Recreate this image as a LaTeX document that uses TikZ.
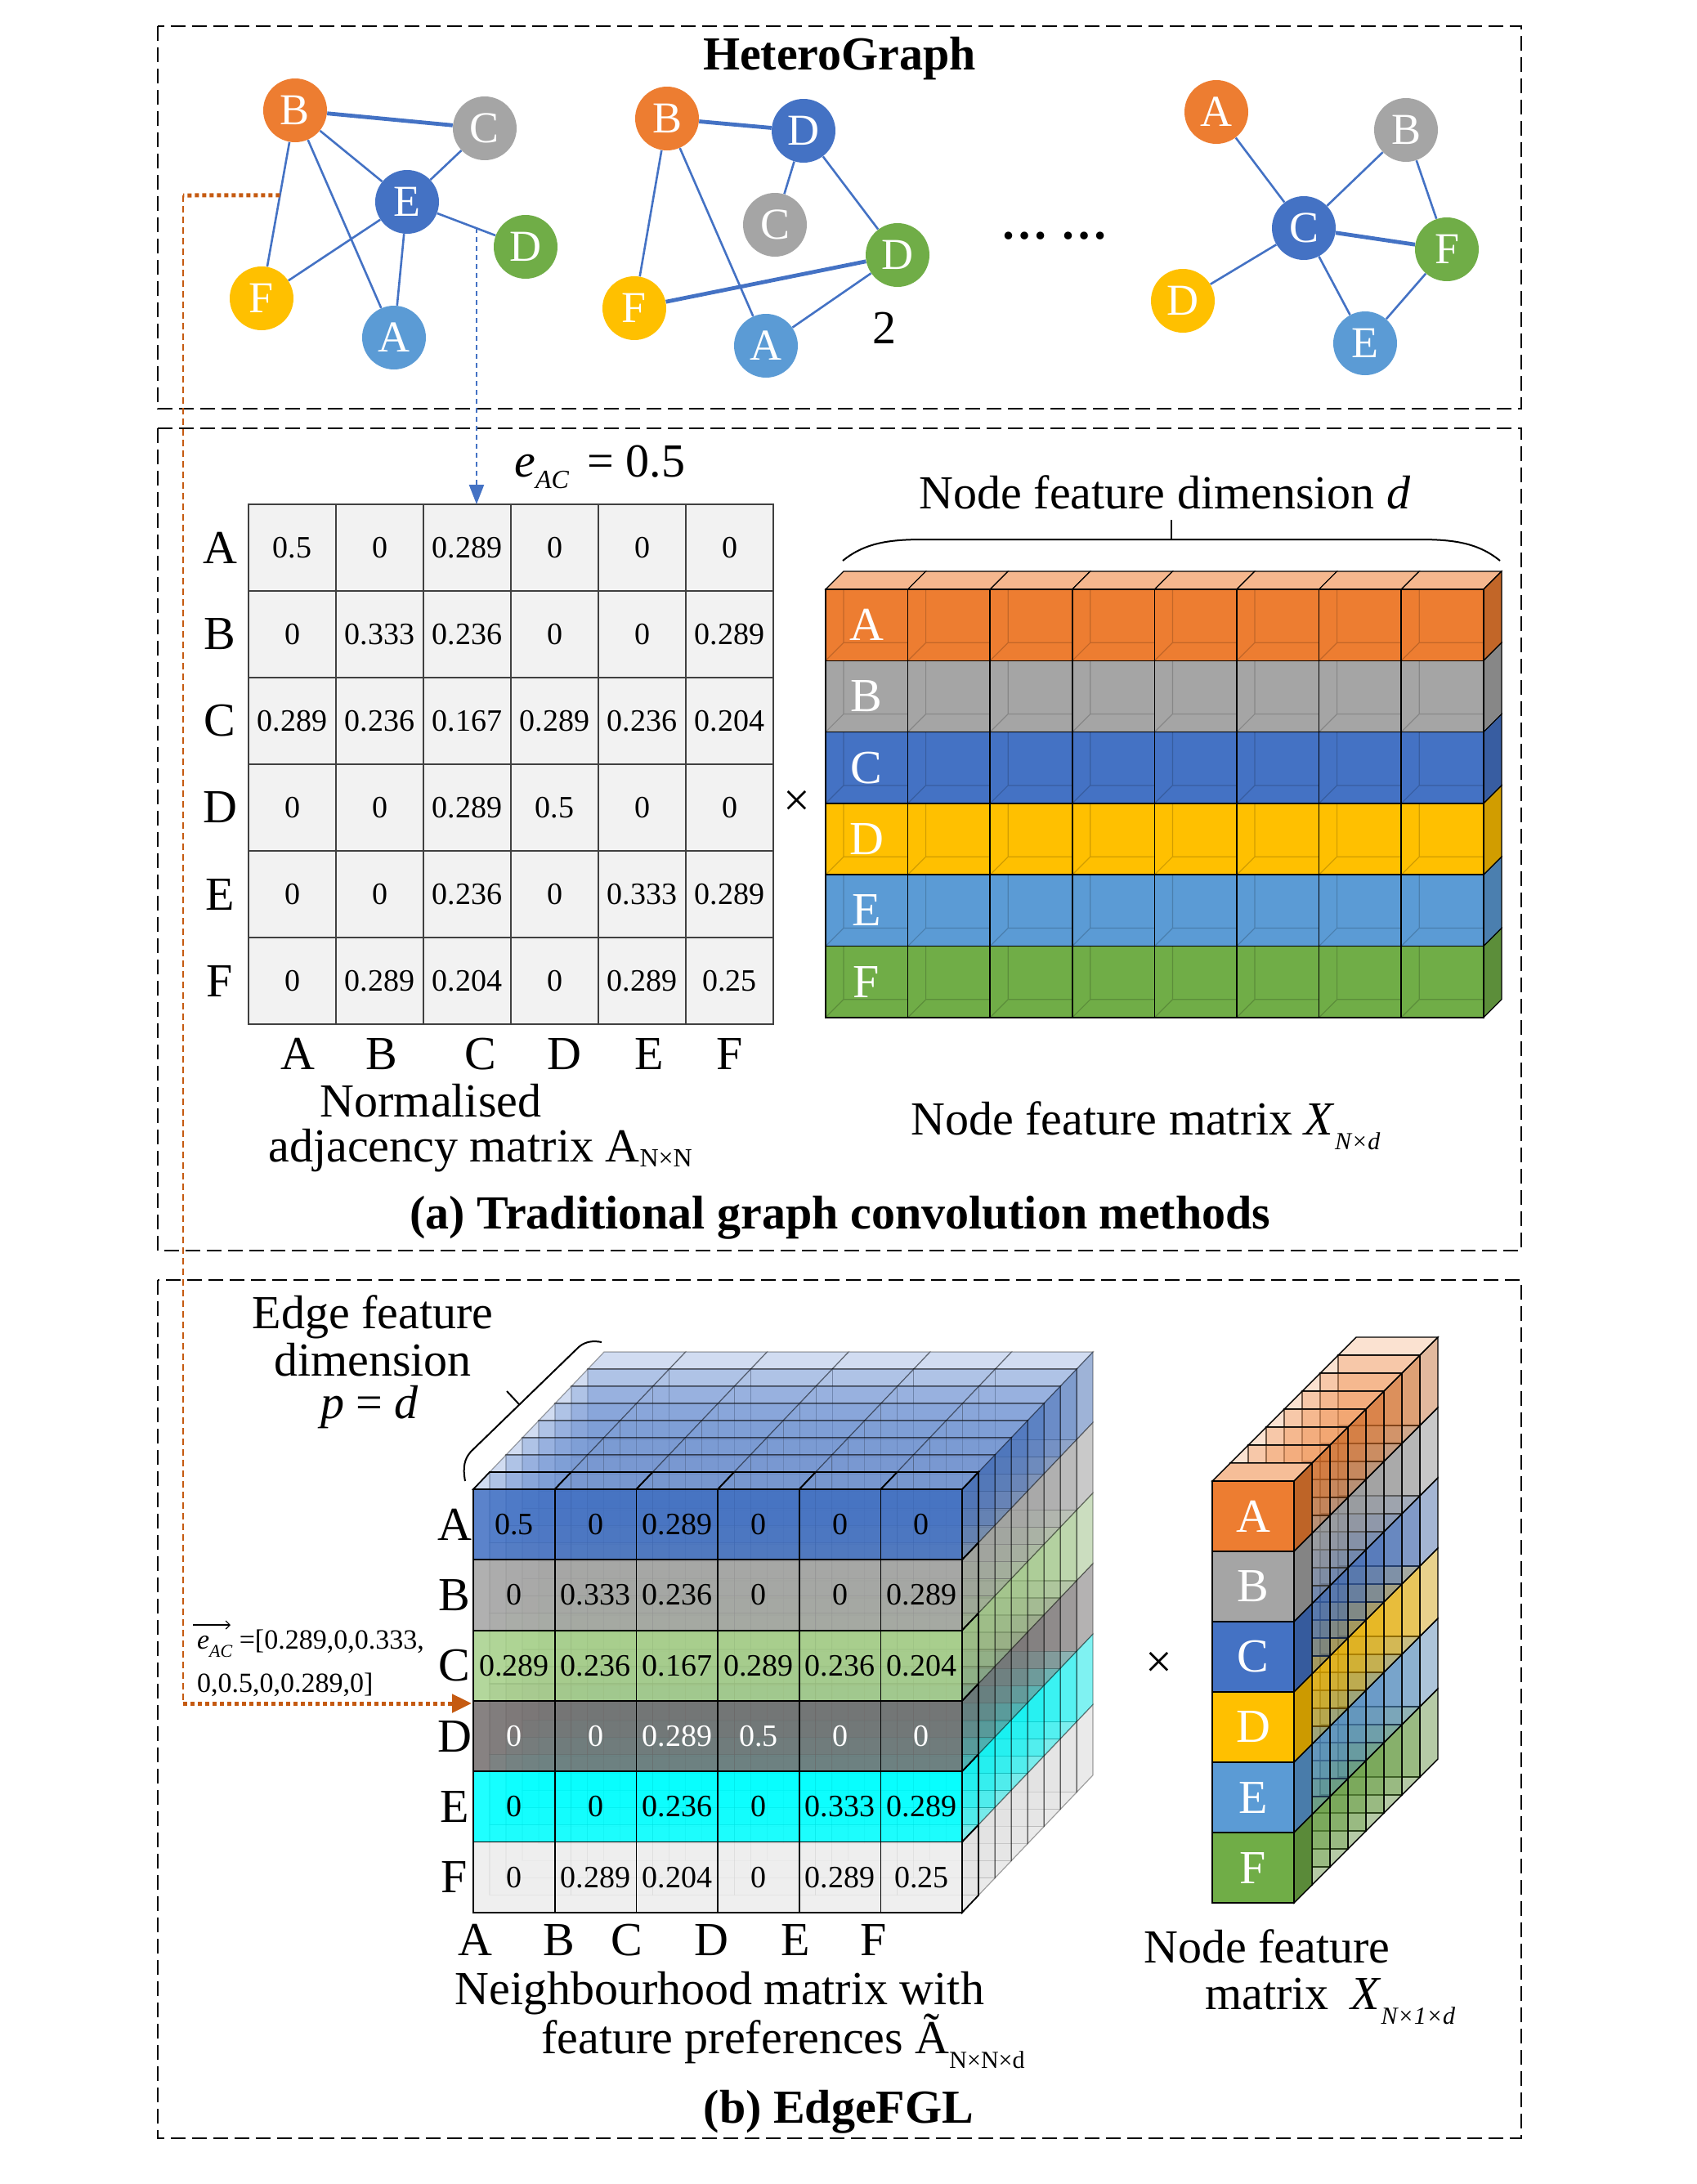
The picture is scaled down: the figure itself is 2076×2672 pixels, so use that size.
\documentclass[tikz,border=0pt]{standalone}
\usepackage{fontspec}
\setmainfont{Liberation Serif}
\usetikzlibrary{arrows.meta,calc}
\definecolor{gorange}{HTML}{ED7D31}
\definecolor{ggray}{HTML}{A5A5A5}
\definecolor{gblue}{HTML}{4472C4}
\definecolor{ggreen}{HTML}{70AD47}
\definecolor{gyellow}{HTML}{FFC000}
\definecolor{glight}{HTML}{5B9BD5}
\definecolor{lgreen}{HTML}{A9D18E}
\definecolor{dgray}{HTML}{767171}
\definecolor{ecyan}{HTML}{00FFFF}
\definecolor{egray}{HTML}{EDEDED}
\definecolor{cellgray}{HTML}{F2F2F2}
\definecolor{darrow}{HTML}{C55A11}
\tikzset{
  gnode/.style={circle,minimum size=39pt,inner sep=0pt,text=white,font=\fontsize{27}{27}\selectfont},
  gedge/.style={draw=gblue,line width=1.3pt},
  gthick/.style={draw=gblue,line width=2.4pt},
  boxframe/.style={draw=black,line width=1pt,dash pattern=on 9pt off 4pt},
  big/.style={font=\fontsize{29}{34}\selectfont,inner sep=1pt},
  num/.style={font=\fontsize{19}{19}\selectfont},
  mcell/.style={fill=cellgray,draw=black!75,line width=0.8pt},
  orthick/.style={draw=darrow,line width=2.5pt,dash pattern=on 2.5pt off 2pt},
  orthin/.style={draw=darrow,line width=1.2pt,dash pattern=on 4pt off 2.5pt},
}
\begin{document}
\begin{tikzpicture}[x=0.5pt,y=-0.5pt]
\useasboundingbox (0,0) rectangle (2076,2672);
% frames
\draw[boxframe] (193,32) rectangle (1861,500);
\draw[boxframe] (193,524) rectangle (1861,1530);
\draw[boxframe] (193,1566) rectangle (1861,2616);

% heterograph
\node[anchor=base,font=\bfseries\fontsize{29}{29}\selectfont] (title) at (1027,85) {HeteroGraph};
\node[gnode,fill=gorange] (aB) at (361,135) {B};
\node[gnode,fill=ggray] (aC) at (593,157) {C};
\node[gnode,fill=gblue] (aE) at (498,247) {E};
\node[gnode,fill=ggreen] (aD) at (643,302) {D};
\node[gnode,fill=gyellow] (aF) at (320,365) {F};
\node[gnode,fill=glight] (aA) at (482,413) {A};
\draw[gthick] (aB) -- (aC);
\draw[gedge] (aB) -- (aE) (aB) -- (aF) (aB) -- (aA) (aC) -- (aE) (aE) -- (aD) (aE) -- (aF) (aE) -- (aA);

\node[gnode,fill=gorange] (bB) at (816,145) {B};
\node[gnode,fill=gblue] (bDb) at (983,160) {D};
\node[gnode,fill=ggray] (bC) at (948,275) {C};
\node[gnode,fill=ggreen] (bDg) at (1098,312) {D};
\node[gnode,fill=gyellow] (bF) at (776,377) {F};
\node[gnode,fill=glight] (bA) at (937,423) {A};
\draw[gthick] (bB) -- (bDb) (bF) -- (bDg);
\draw[gedge] (bB) -- (bF) (bB) -- (bA) (bDb) -- (bC) (bDb) -- (bDg) (bA) -- (bDg);
\node[big,anchor=base] (gtwo) at (1082,420) {2};

\node[big,anchor=base] (gdots) at (1290,292) {\textbf{\ldots\ \ldots}};

\node[gnode,fill=gorange] (cA) at (1488,137) {A};
\node[gnode,fill=ggray] (cB) at (1720,159) {B};
\node[gnode,fill=gblue] (cC) at (1595,279) {C};
\node[gnode,fill=ggreen] (cF) at (1770,305) {F};
\node[gnode,fill=gyellow] (cD) at (1447,368) {D};
\node[gnode,fill=glight] (cE) at (1670,420) {E};
\draw[gthick] (cC) -- (cF);
\draw[gedge] (cA) -- (cC) (cB) -- (cC) (cB) -- (cF) (cC) -- (cD) (cC) -- (cE) (cE) -- (cF);

% (a) adjacency matrix
\foreach \vals [count=\ri from 0] in {{0.5,0,0.289,0,0,0},{0,0.333,0.236,0,0,0.289},{0.289,0.236,0.167,0.289,0.236,0.204},{0,0,0.289,0.5,0,0},{0,0,0.236,0,0.333,0.289},{0,0.289,0.204,0,0.289,0.25}}
  \foreach \v [count=\ci from 0] in \vals {
    \filldraw[mcell] (304+107*\ci,617+106*\ri) rectangle ++(107,106);
    \node[num] (ma-\ri-\ci) at (357.5+107*\ci,670+106*\ri) {\v};
  }
\foreach \l [count=\ri from 0] in {A,B,C,D,E,F}
  \node[big] (ma-row\l) at (269,670+106*\ri) {\l};
\foreach \l/\xx in {A/364,B/467,C/588,D/690,E/794,F/893}
  \node[big,anchor=base] (ma-col\l) at (\xx,1308) {\l};
\node[big,anchor=base west] (eac) at (627,583) {\textit{e}\raisebox{-7pt}{\fontsize{16}{16}\selectfont\itshape AC}\hspace{4pt} = 0.5};
\coordinate (edpt) at ($(aE.center)!0.586!(aD.center)$);
\coordinate (matTop) at (584,617);
\draw[draw=gblue,line width=1.2pt,dash pattern=on 3pt off 2.5pt,-{Triangle[length=12pt,width=9pt]}] (edpt) -- (edpt |- matTop);
\node[big,anchor=base] (norm1) at (527,1366) {Normalised};
\node[big,anchor=base west] (norm2) at (326,1421) {adjacency matrix A\raisebox{-3pt}{\fontsize{16}{16}\selectfont N×N}};
\node[big] (times1) at (975,983) {×};

% (a) node feature matrix
\foreach \ci in {0,...,7}
  \filldraw[fill=gorange!55!white,draw=black,line width=0.6pt] (1010+100.6*\ci,721) -- ++(22,-22) -- ++(100.6,0) -- ++(-22,22) -- cycle;
\foreach \clr/\l [count=\ri from 0] in {gorange/A,ggray/B,gblue/C,gyellow/D,glight/E,ggreen/F} {
  \filldraw[fill=\clr!82!black,draw=black,line width=0.6pt] (1815,721+87.3*\ri) -- ++(22,-22) -- ++(0,87.3) -- ++(-22,22) -- cycle;
  \foreach \ci in {0,...,7} {
    \filldraw[fill=\clr,draw=black,line width=0.8pt] (1010+100.6*\ci,721+87.3*\ri) rectangle ++(100.6,87.3);
    \draw[black,opacity=0.18,line width=0.6pt] (1010+100.6*\ci,808.3+87.3*\ri) -- ++(22,-22) -- ++(0,-65.3) (1032+100.6*\ci,786.3+87.3*\ri) -- ++(78.6,0);
  }
  \node[big,text=white] (xa-\l) at (1060,764.65+87.3*\ri) {\l};
}
\draw[line width=1pt] (1031,686) .. controls (1058,664) and (1088,660) .. (1130,660) -- (1736,660) .. controls (1778,660) and (1808,664) .. (1835,686);
\draw[line width=1pt] (1433,660) -- (1433,636);
\node[big,anchor=base] (xadim) at (1425,622) {Node feature dimension \textit{d}};
\node[big,anchor=base west] (xalabel) at (1112,1388) {Node feature matrix \textit{X}\raisebox{-9pt}{\fontsize{15}{15}\selectfont\itshape N×d}};
\node[anchor=base,font=\bfseries\fontsize{29}{29}\selectfont] (capa) at (1028,1503) {(a) Traditional graph convolution methods};

% (b) neighbourhood cube
\foreach \k in {7,6,...,0} {
  \pgfmathsetmacro\ox{20*\k}
  \pgfmathsetmacro\oy{21*\k}
  \pgfmathsetmacro\fo{\k==0 ? 0.88 : 0.32}
  \pgfmathsetmacro\dop{\k==0 ? 1 : 0.35}
  \pgfmathsetmacro\lw{\k==0 ? 0.9 : 0.6}
  \foreach \ci in {0,...,5}
    \filldraw[fill=gblue!55!white,fill opacity=0.45,draw=black,draw opacity=\dop,line width=\lw pt] (579+\ox+99.7*\ci,1822-\oy) -- ++(20,-21) -- ++(99.7,0) -- ++(-20,21) -- cycle;
  \foreach \clr [count=\ri from 0] in {gblue,ggray,lgreen,dgray,ecyan,egray} {
    \filldraw[fill=\clr!90!black,fill opacity=0.5,draw=black,draw opacity=\dop,line width=\lw pt] (1177+\ox,1822-\oy+86.3*\ri) -- ++(20,-21) -- ++(0,86.3) -- ++(-20,21) -- cycle;
    \foreach \ci in {0,...,5}
      \filldraw[fill=\clr,fill opacity=\fo,draw=black,draw opacity=\dop,line width=\lw pt] (579+\ox+99.7*\ci,1822-\oy+86.3*\ri) rectangle ++(99.7,86.3);
  }
}
\foreach \vals/\tc [count=\ri from 0] in {{0.5,0,0.289,0,0,0}/black,{0,0.333,0.236,0,0,0.289}/black,{0.289,0.236,0.167,0.289,0.236,0.204}/black,{0,0,0.289,0.5,0,0}/white,{0,0,0.236,0,0.333,0.289}/black,{0,0.289,0.204,0,0.289,0.25}/black}
  \foreach \v [count=\ci from 0] in \vals
    \node[num,text=\tc] (mb-\ri-\ci) at (628.85+99.7*\ci,1865.15+86.3*\ri) {\v};
\foreach \l [count=\ri from 0] in {A,B,C,D,E,F}
  \node[big] (mb-row\l) at (556,1865.15+86.3*\ri) {\l};
\foreach \l/\xx in {A/581,B/684,C/767,D/870,E/973,F/1069}
  \node[big,anchor=base] (mb-col\l) at (\xx,2392) {\l};
\draw[line width=1pt] (569,1812) .. controls (566,1795) and (568,1785) .. (576,1776) -- (708,1648) .. controls (716,1641) and (726,1640) .. (736,1642);
\draw[line width=1pt] (635,1718) -- (620,1702);
\node[big,anchor=base,inner sep=0pt] (edim1) at (456,1625) {Edge feature};
\node[big,anchor=base,inner sep=0pt] (edim2) at (456,1683) {dimension};
\node[big,anchor=base,inner sep=0pt] (edim3) at (452,1735) {\textit{p} = \textit{d}};

% e_AC vector and link
\node[anchor=base west,font=\fontsize{17}{17}\selectfont] (evec1) at (234,2017) {\textit{e}\raisebox{-5pt}{\fontsize{11}{11}\selectfont\itshape AC} =[0.289,0,0.333,};
\node[anchor=base west,font=\fontsize{17}{17}\selectfont] (evec2) at (234,2070) {0,0.5,0,0.289,0]};
\draw[-{Straight Barb[length=2.5pt]},line width=0.6pt] (236,1988) -- (282,1988);
\coordinate (bfpt) at ($(aB.center)!0.452!(aF.center)$);
\coordinate (orTurn) at (224,239);
\coordinate (orDown) at (224,2084);
\coordinate (orEnd) at (577,2084);
\draw[orthick] (bfpt) -- (orTurn);
\draw[orthin] (orTurn) -- (orDown);
\draw[orthick,-{Triangle[length=12pt,width=11pt]}] (orDown) -- (orEnd);

% (b) node feature column
\foreach \k in {7,6,...,0} {
  \pgfmathsetmacro\ox{22*\k}
  \pgfmathsetmacro\fo{\k==0 ? 1 : 0.35}
  \pgfmathsetmacro\so{\k==0 ? 1 : 0.45}
  \filldraw[fill=gorange!50!white,fill opacity=\so,draw=black,line width=0.7pt] (1483+\ox,1812-\ox) -- ++(22,-22) -- ++(100,0) -- ++(-22,22) -- cycle;
  \foreach \clr [count=\ri from 0] in {gorange,ggray,gblue,gyellow,glight,ggreen} {
    \filldraw[fill=\clr!80!black,fill opacity=\so,draw=black,line width=0.7pt] (1583+\ox,1812-\ox+86*\ri) -- ++(22,-22) -- ++(0,86) -- ++(-22,22) -- cycle;
    \filldraw[fill=\clr,fill opacity=\fo,draw=black,line width=0.7pt] (1483+\ox,1812-\ox+86*\ri) rectangle ++(100,86);
  }
}
\foreach \l [count=\ri from 0] in {A,B,C,D,E,F}
  \node[big,text=white] (xb-\l) at (1533,1855+86*\ri) {\l};
\node[big] (times2) at (1418,2037) {×};

% captions (b)
\node[big,anchor=base west] (nb1) at (554,2452) {Neighbourhood matrix with};
\node[big,anchor=base west] (nb2) at (660,2512) {feature preferences Ã\raisebox{-9pt}{\fontsize{15}{15}\selectfont N×N×d}};
\node[big,anchor=base] (xb1) at (1550,2401) {Node feature};
\node[big,anchor=base west] (xb2) at (1472,2458) {matrix\hspace{6pt} \textit{X}\raisebox{-9pt}{\fontsize{15}{15}\selectfont\itshape N×1×d}};
\node[anchor=base,font=\bfseries\fontsize{29}{29}\selectfont] (capb) at (1026,2597) {(b) EdgeFGL};
\end{tikzpicture}
\end{document}
